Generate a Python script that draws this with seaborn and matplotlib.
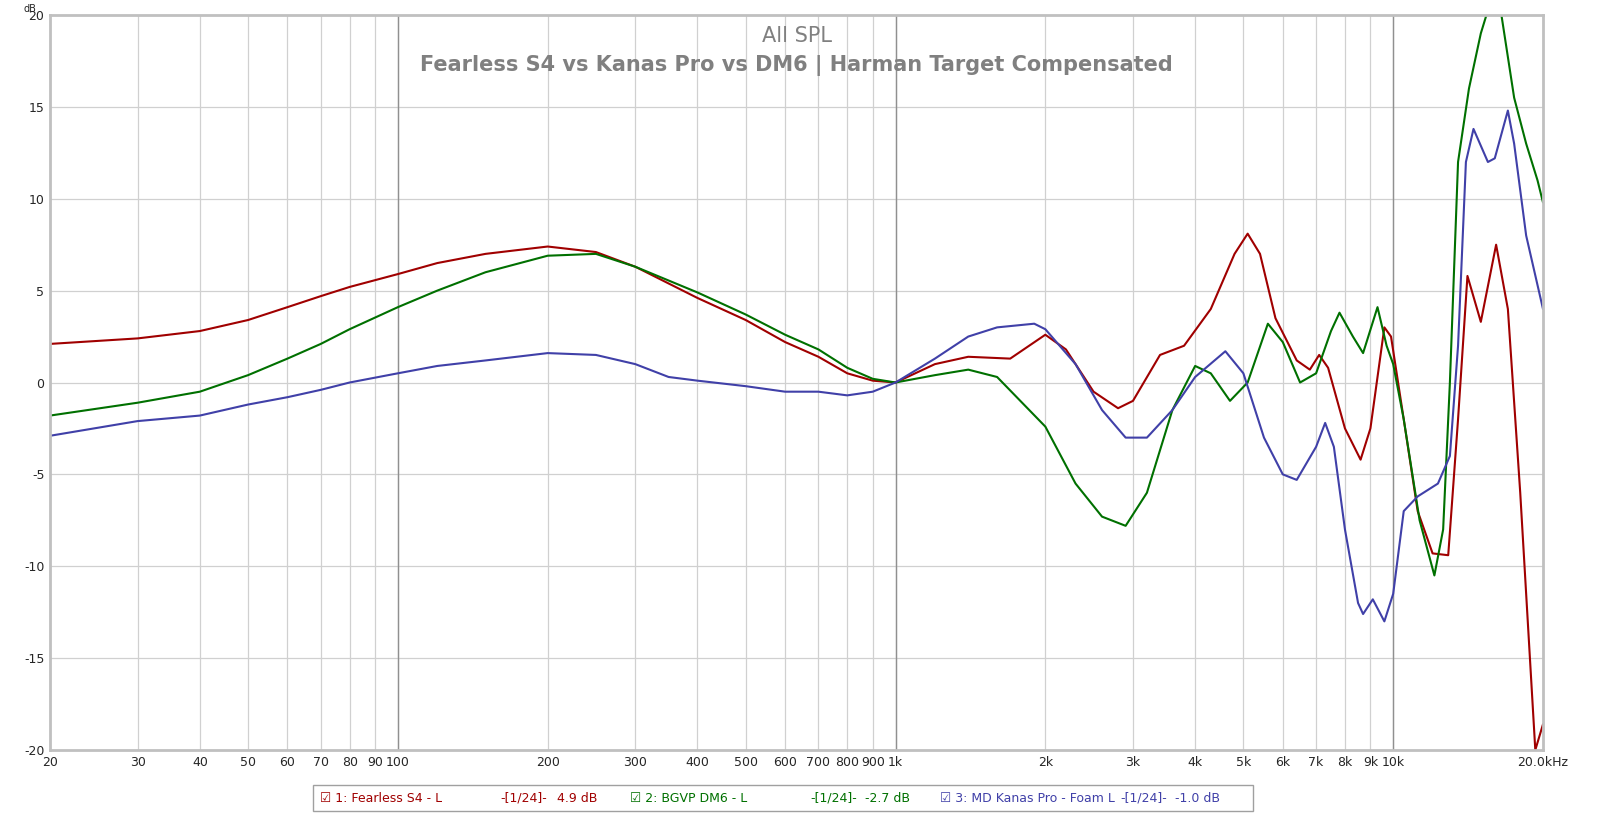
import matplotlib
matplotlib.use("Agg")
import matplotlib.pyplot as plt
import seaborn as sns
import pandas as pd

# Fearless S4 - L
s4_f = [20, 30, 40, 50, 60, 70, 80, 100, 120, 150, 200, 250, 300, 400, 500, 600, 700, 800, 900, 1000,
        1200, 1400, 1700, 2000, 2200, 2500, 2800, 3000, 3400, 3800, 4300, 4800, 5100, 5400, 5800, 6400,
        6800, 7100, 7400, 8000, 8600, 9000, 9600, 9900, 10500, 11200, 12000, 12900, 13500, 14100, 15000,
        16100, 17000, 18000, 19300, 20000]
s4_db = [2.1, 2.4, 2.8, 3.4, 4.1, 4.7, 5.2, 5.9, 6.5, 7.0, 7.4, 7.1, 6.3, 4.6, 3.4, 2.2, 1.4, 0.5, 0.1, 0.0,
         1.0, 1.4, 1.3, 2.6, 1.8, -0.5, -1.4, -1.0, 1.5, 2.0, 4.0, 7.0, 8.1, 7.0, 3.5, 1.2,
         0.7, 1.5, 0.8, -2.5, -4.2, -2.5, 3.0, 2.5, -2.0, -7.0, -9.3, -9.4, -2.0, 5.8, 3.3,
         7.5, 4.0, -6.0, -20.0, -18.6]

# BGVP DM6 - L
dm6_f = [20, 30, 40, 50, 60, 70, 80, 100, 120, 150, 200, 250, 300, 400, 500, 600, 700, 800, 900, 1000,
         1200, 1400, 1600, 2000, 2300, 2600, 2900, 3200, 3600, 4000, 4300, 4700, 5100, 5600, 6000, 6500,
         7000, 7500, 7800, 8300, 8700, 9300, 9700, 10000, 10500, 11300, 12100, 12600, 13000, 13500, 14200,
         15000, 15800, 16500, 17500, 18500, 19500, 20000]
dm6_db = [-1.8, -1.1, -0.5, 0.4, 1.3, 2.1, 2.9, 4.1, 5.0, 6.0, 6.9, 7.0, 6.3, 4.9, 3.7, 2.6, 1.8, 0.8, 0.2, 0.0,
          0.4, 0.7, 0.3, -2.4, -5.5, -7.3, -7.8, -6.0, -1.5, 0.9, 0.5, -1.0, 0.0, 3.2, 2.2, 0.0,
          0.5, 2.8, 3.8, 2.5, 1.6, 4.1, 2.0, 1.0, -2.0, -7.5, -10.5, -8.0, 0.0, 12.0, 16.0,
          19.0, 21.0, 20.0, 15.5, 13.0, 11.0, 9.8]

# MD Kanas Pro - Foam L
kanas_f = [20, 30, 40, 50, 60, 70, 80, 100, 120, 150, 200, 250, 300, 350, 400, 500, 600, 700, 800, 900, 1000,
           1200, 1400, 1600, 1900, 2000, 2300, 2600, 2900, 3200, 3600, 4000, 4600, 5000, 5500, 6000, 6400,
           7000, 7300, 7600, 8000, 8500, 8700, 9100, 9600, 10000, 10500, 11200, 12300, 13000, 13500, 14000,
           14500, 15500, 16000, 17000, 17500, 18500, 20000]
kanas_db = [-2.9, -2.1, -1.8, -1.2, -0.8, -0.4, 0.0, 0.5, 0.9, 1.2, 1.6, 1.5, 1.0, 0.3, 0.1, -0.2, -0.5, -0.5, -0.7, -0.5, 0.0,
            1.3, 2.5, 3.0, 3.2, 2.9, 1.0, -1.5, -3.0, -3.0, -1.5, 0.3, 1.7, 0.5, -3.0, -5.0, -5.3,
            -3.5, -2.2, -3.5, -8.0, -12.0, -12.6, -11.8, -13.0, -11.5, -7.0, -6.2, -5.5, -4.0, 2.0, 12.0,
            13.8, 12.0, 12.2, 14.8, 13.0, 8.0, 4.0]

names = ["1: Fearless S4 - L", "2: BGVP DM6 - L", "3: MD Kanas Pro - Foam L"]
offsets = ["4.9 dB", "-2.7 dB", "-1.0 dB"]
colors = ["#a00000", "#007000", "#4040a8"]

df = pd.concat([
    pd.DataFrame({"f": s4_f, "db": s4_db, "name": names[0]}),
    pd.DataFrame({"f": dm6_f, "db": dm6_db, "name": names[1]}),
    pd.DataFrame({"f": kanas_f, "db": kanas_db, "name": names[2]}),
])

sns.set_style("white")
fig = plt.figure(figsize=(16, 8.14), dpi=100)
ax = fig.add_axes([50/1600, 64/814, 1493/1600, 735/814])
sns.lineplot(data=df, x="f", y="db", hue="name", palette=colors, linewidth=1.5,
             legend=False, ax=ax, sort=False)
ax.set_xscale("log")
ax.set_xlim(20, 20000)
ax.set_ylim(-20, 20)

major = [20, 30, 40, 50, 60, 70, 80, 90, 100, 200, 300, 400, 500, 600, 700, 800, 900,
         1000, 2000, 3000, 4000, 5000, 6000, 7000, 8000, 9000, 10000, 20000]
labels = ["20", "30", "40", "50", "60", "70", "80", "90", "100", "200", "300", "400", "500",
          "600", "700", "800", "900", "1k", "2k", "3k", "4k", "5k", "6k", "7k", "8k", "9k", "10k", "20.0kHz"]
ax.set_xticks(major)
ax.set_xticklabels(labels, fontsize=9)
ax.minorticks_off()
ax.set_yticks(range(-20, 21, 5))
ax.set_yticklabels([str(v) for v in range(-20, 21, 5)], fontsize=9)
ax.tick_params(length=0, pad=4)
ax.grid(True, color="#d0d0d0", linewidth=0.9)
for v in [100, 1000, 10000]:
    ax.axvline(v, color="#909090", linewidth=1.0, zorder=1)
for s in ax.spines.values():
    s.set_color("#c0c0c0")
    s.set_linewidth(2)
ax.set_xlabel("")
ax.set_ylabel("")
fig.text(30/1600, 1 - 4/814, "dB", fontsize=7, ha="center", va="top")

ax.text(0.5, 0.985, "All SPL", transform=ax.transAxes, ha="center", va="top",
        fontsize=15, color="#808080")
ax.text(0.5, 0.945, "Fearless S4 vs Kanas Pro vs DM6 | Harman Target Compensated",
        transform=ax.transAxes, ha="center", va="top", fontsize=15, color="#808080",
        fontweight="bold")

# legend strip at the bottom
box = plt.Rectangle((313/1600, 3/814), 940/1600, 26/814, transform=fig.transFigure,
                    facecolor="white", edgecolor="#a0a0a0", linewidth=1)
fig.add_artist(box)
xs = [(320, 500, 557), (630, 810, 865), (940, 1120, 1175)]
for (xn, xb, xo), n, o, c in zip(xs, names, offsets, colors):
    fig.text(xn/1600, 16/814, "\u2611 " + n, color=c, fontsize=9, va="center")
    fig.text(xb/1600, 16/814, "-[1/24]-", color=c, fontsize=9, va="center",
             bbox=dict(boxstyle="round,pad=0.1", fc="white", ec="none"))
    fig.text(xo/1600, 16/814, o, color=c, fontsize=9, va="center")

fig.savefig("out.png", dpi=100)
